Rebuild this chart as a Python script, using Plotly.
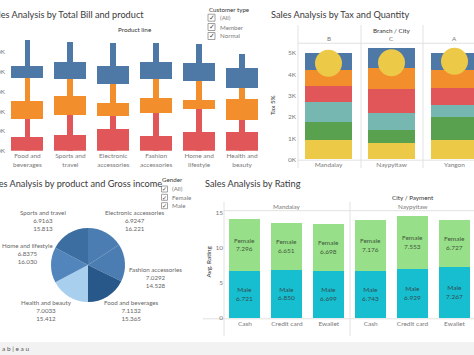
import plotly.graph_objects as go

W, H = 474, 355
def fx(p): return p / W
def fy(p): return 1 - p / H

FONT = "Lato, sans-serif"
GRAY = "#7a7a7a"
DARK = "#333333"
LINE = "#e2e2e2"

# ---------------- data ----------------
# Top-left: Total Bill by product line (stacked segments, values in currency)
products = ["Food and<br>beverages", "Sports and<br>travel", "Electronic<br>accessories",
            "Fashion<br>accessories", "Home and<br>lifestyle", "Health and<br>beauty"]
bill_red = [16600, 18600, 18000, 19300, 21300, 15900]
bill_orange = [20700, 17900, 15900, 17200, 14200, 16300]
bill_blue = [19200, 18800, 20900, 18300, 19000, 17200]
box_red = [7100, 8100, 11200, 7500, 9800, 9800]
box_orange = [9100, 9200, 6400, 7800, 4800, 10500]
box_blue = [6200, 8900, 9500, 8700, 9500, 10100]
bill_ticks = [0, 10000, 20000, 30000, 40000, 50000]
bill_ticktext = ["0K", "10K", "20K", "30K", "40K", "50K"]

# Top-right: Tax 5% by branch / city, stacked by product line; circles = quantity
cities = ["Mandalay", "Naypyitaw", "Yangon"]
branches = ["B", "C", "A"]
tax_yellow = [920, 770, 920]
tax_green = [850, 620, 1070]
tax_teal = [940, 790, 560]
tax_red = [720, 1130, 820]
tax_orange = [750, 1000, 810]
tax_blue = [820, 900, 820]
quantity = [1820, 1831, 1859]
tax_ticks = [0, 1000, 2000, 3000, 4000, 5000]
tax_ticktext = ["0K", "1K", "2K", "3K", "4K", "5K"]

# Bottom-left: pie by product line
pie_labels = ["Electronic accessories", "Fashion accessories", "Food and beverages",
              "Health and beauty", "Home and lifestyle", "Sports and travel"]
pie_share = [57, 59, 64, 62, 56, 62]
pie_rating = ["6.9247", "7.0292", "7.1132", "7.0033", "6.8375", "6.9163"]
pie_gross = ["16.221", "14.528", "15.365", "15.412", "16.030", "15.813"]

# Bottom-right: avg rating by city / payment and gender
rating_cities = ["Mandalay", "Naypyitaw"]
payments = ["Cash", "Credit card", "Ewallet", "Cash", "Credit card", "Ewallet"]
male = [6.721, 6.850, 6.699, 6.743, 6.929, 7.267]
female = [7.296, 6.651, 6.698, 7.176, 7.553, 6.727]
rating_ticks = [0, 5, 10, 15]

# ---------------- figure ----------------
fig = go.Figure()

SMALL = 6.5

# Top-left stacked "cross" bars
c_red, c_orange, c_blue = "#e15759", "#f28e2b", "#4e79a7"
xs = list(range(len(products)))
start_red = [0] * 6
start_orange = [r for r in bill_red]
start_blue = [r + o for r, o in zip(bill_red, bill_orange)]
for seg, box, base, col in [(bill_red, box_red, start_red, c_red),
                            (bill_orange, box_orange, start_orange, c_orange),
                            (bill_blue, box_blue, start_blue, c_blue)]:
    fig.add_trace(go.Bar(x=xs, y=seg, base=base, width=0.135, marker_color=col,
                         marker_line_width=0, xaxis="x", yaxis="y", showlegend=False))
    fig.add_trace(go.Bar(x=xs, y=box, base=base, width=0.745, marker_color=col,
                         marker_line_width=0, xaxis="x", yaxis="y", showlegend=False))

# Top-right stacked tax bars
xs2 = list(range(len(cities)))
tax_segments = [(tax_yellow, "#edc948"), (tax_green, "#59a14f"), (tax_teal, "#76b7b2"),
                (tax_red, "#e15759"), (tax_orange, "#f28e2b"), (tax_blue, "#4e79a7")]
cum = [0] * 3
for seg, col in tax_segments:
    fig.add_trace(go.Bar(x=xs2, y=seg, base=list(cum), width=0.746, marker_color=col,
                         marker_line_width=0, xaxis="x2", yaxis="y2", showlegend=False))
    cum = [c + s for c, s in zip(cum, seg)]
fig.add_trace(go.Scatter(x=xs2, y=quantity, mode="markers",
                         marker=dict(size=27, color="#edc948", line_width=0),
                         xaxis="x2", yaxis="y4", showlegend=False, cliponaxis=False))

# Bottom-right stacked rating bars
xs3 = list(range(len(payments)))
fig.add_trace(go.Bar(x=xs3, y=male, width=0.74, marker_color="#17becf", marker_line_width=0,
                     text=[f"Male<br>{v:.3f}" for v in male], textposition="inside",
                     insidetextanchor="middle", textangle=0, constraintext="none",
                     insidetextfont=dict(family=FONT, size=SMALL, color="#2f4f55"),
                     xaxis="x3", yaxis="y3", showlegend=False))
fig.add_trace(go.Bar(x=xs3, y=female, base=male, width=0.74, marker_color="#98df8a",
                     marker_line_width=0,
                     text=[f"Female<br>{v:.3f}" for v in female], textposition="inside",
                     insidetextanchor="middle", textangle=0, constraintext="none",
                     insidetextfont=dict(family=FONT, size=SMALL, color="#3f5a3a"),
                     xaxis="x3", yaxis="y3", showlegend=False))

# Pie
fig.add_trace(go.Pie(labels=pie_labels, values=pie_share, sort=False, direction="clockwise",
                     rotation=0, textinfo="none", hoverinfo="label",
                     marker=dict(colors=["#4b7db3", "#4b7db3", "#28588a", "#a9cfee",
                                         "#5185bb", "#3d6ea2"], line=dict(width=0)),
                     domain=dict(x=[fx(51), fx(125)], y=[fy(302), fy(228)]),
                     showlegend=False))

tickfont = dict(family=FONT, size=SMALL, color=GRAY)
axis_common = dict(showgrid=False, zeroline=False, showline=False, ticks="",
                   fixedrange=True, automargin=False)

fig.update_layout(
    width=W, height=H, margin=dict(l=0, r=0, t=0, b=0, autoexpand=False),
    paper_bgcolor="white", plot_bgcolor="rgba(0,0,0,0)",
    barmode="overlay", bargap=0, font=dict(family=FONT, color=DARK),
    xaxis=dict(domain=[fx(6), fx(263.5)], range=[-0.5, 5.5], tickvals=xs, ticktext=products,
               tickfont=tickfont, anchor="y", **axis_common),
    yaxis=dict(domain=[fy(150.7), fy(32.5)], range=[0, 60000], tickvals=bill_ticks,
               ticktext=bill_ticktext, tickfont=tickfont, anchor="x", **axis_common),
    xaxis2=dict(domain=[fx(297), 1], range=[-0.5, (474 - 297) / 63 - 0.5], tickvals=xs2,
                ticktext=cities, tickfont=tickfont, anchor="y2", **axis_common),
    yaxis2=dict(domain=[fy(159.7), fy(43.3)], range=[0, 5465], tickvals=tax_ticks,
                ticktext=tax_ticktext, tickfont=tickfont, anchor="x2", **axis_common),
    yaxis4=dict(overlaying="y2", range=[-59, 2210], visible=False, fixedrange=True),
    xaxis3=dict(domain=[fx(224), 1], range=[-0.5, (474 - 224) / 41.9 - 0.5], tickvals=xs3,
                ticktext=payments, tickfont=tickfont, anchor="y3", **axis_common),
    yaxis3=dict(domain=[fy(318), fy(210.7)], range=[0, 15.22], tickvals=rating_ticks,
                tickfont=tickfont, anchor="x3", **axis_common),
)

shapes = []
def hline(y, x0, x1):
    shapes.append(dict(type="line", xref="paper", yref="paper", x0=fx(x0), x1=fx(x1),
                       y0=fy(y), y1=fy(y), line=dict(color=LINE, width=1), layer="below"))
def vline(x, y0, y1):
    shapes.append(dict(type="line", xref="paper", yref="paper", x0=fx(x), x1=fx(x),
                       y0=fy(y0), y1=fy(y1), line=dict(color=LINE, width=1), layer="below"))

# top-right panel lines
for xv in [298, 361, 423]:
    vline(xv, 25, 168)
hline(43.3, 298, 474)
hline(160.2, 298, 474)
# bottom-right panel lines
for xv in [224, 350]:
    vline(xv, 201.7, 336)
hline(210.7, 224, 474)
hline(318.8, 203, 474)
# footer band
shapes.append(dict(type="rect", xref="paper", yref="paper", x0=0, x1=1, y0=0, y1=fy(342),
                   fillcolor="#f2f2f2", line_width=0, layer="below"))

annotations = []
def text(x, y, s, size=SMALL, color=DARK, xanchor="center", yanchor="middle", angle=0, family=FONT):
    annotations.append(dict(x=fx(x), y=fy(y), xref="paper", yref="paper", text=s,
                            showarrow=False, xanchor=xanchor, yanchor=yanchor, textangle=angle,
                            font=dict(family=family, size=size, color=color)))

# titles
TITLE = "#3a3a3a"
TS = 9.2
text(146, 15, "Sales Analysis by Total Bill and product", TS, TITLE, xanchor="right")
text(268.5, 15, "Sales Analysis by Tax and Quantity", TS, TITLE, xanchor="left")
text(164, 183.5, "Sales Analysis by product and Gross income", TS, TITLE, xanchor="right")
text(203, 183, "Sales Analysis by Rating", TS, TITLE, xanchor="left")

# headers
HS = 6.3
text(135, 29.7, "Product line", HS, DARK)
text(391.5, 30, "Branch / City", HS, DARK)
for xb, b in zip([328.5, 391.5, 454.5], branches):
    text(xb, 39, b, HS, GRAY)
text(413, 197.7, "City / Payment", HS, DARK)
for xc, c in zip([287, 413], rating_cities):
    text(xc, 206.7, c, HS, GRAY)
text(272, 105, "Tax 5%", HS, DARK, angle=-90)
text(207.5, 262, "Avg. Rating", HS, DARK, angle=-90)

# pie labels
pie_pos = {"Electronic accessories": (135, 221), "Fashion accessories": (155, 277.5),
           "Food and beverages": (131.5, 310), "Health and beauty": (46.5, 310),
           "Home and lifestyle": (27, 253.5), "Sports and travel": (43, 221)}
for lab, r, g in zip(pie_labels, pie_rating, pie_gross):
    px_, py_ = pie_pos[lab]
    text(px_, py_, f"{lab}<br>{r}<br>{g}", 6.2, "#666666")

# filter legends (checkbox lists)
def checklist(x_box, y_title, x_title, title, items, ys, box):
    text(x_title, y_title, title, 6.2, DARK, xanchor="left")
    for it, yy in zip(items, ys):
        shapes.append(dict(type="rect", xref="paper", yref="paper",
                           x0=fx(x_box), x1=fx(x_box + box), y0=fy(yy + box / 2), y1=fy(yy - box / 2),
                           line=dict(color="#8a8a8a", width=0.8), fillcolor="white"))
        text(x_box + box / 2, yy, "✓", box, "#444444", family="DejaVu Sans")
        text(x_box + box + 2.5, yy, it, 6.2, GRAY, xanchor="left")

checklist(208, 9.3, 207, "Customer type", ["(All)", "Member", "Normal"], [17.7, 27, 36], 7)
checklist(161.5, 179.3, 160, "Gender", ["(All)", "Female", "Male"], [189, 197.3, 205.7], 6)

# footer
text(0, 348.5, "a b | e a u", 6.5, "#555555", xanchor="left")

fig.update_layout(shapes=shapes, annotations=annotations)
fig.write_html("out.html", config={"displayModeBar": False},
               post_script="document.body.style.margin='0px';document.body.style.padding='0px';")
